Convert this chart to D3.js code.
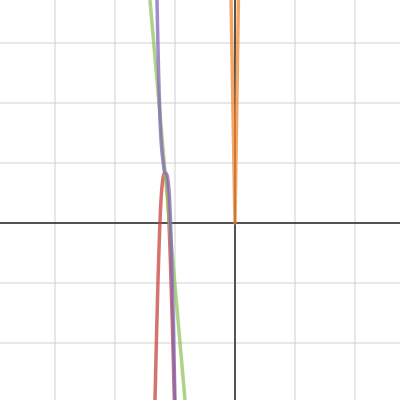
<!DOCTYPE html>
<html><head><meta charset="utf-8">
<script src="https://cdn.jsdelivr.net/npm/d3@7"></script>
<style>body{margin:0;background:#fff}</style></head>
<body><svg id="c" width="400" height="400"></svg>
<script>
const orangeX=[-0.067,0,0.058], orangeY=[3.8,0,3.8];
const redX=[-1.333,-1.283,-1.233,-1.2,-1.183,-1.16,-1.133,-1.083,-1.01];
const redY=[-2.95,-0.95,0.383,0.75,0.817,0.8,0.633,-0.45,-2.95];
const greenX=[-1.417,-0.833], greenY=[3.717,-2.95];
const purpleX=[-1.30,-1.233,-1.19,-1.17,-1.15,-1.133,-1.10,-1.06,-1.0];
const purpleY=[3.72,1.383,0.95,0.84,0.83,0.80,0.55,-0.45,-2.95];
const svg=d3.select("#c");
const x=d3.scaleLinear().domain([-3.9166,2.75]).range([0,400]);
const y=d3.scaleLinear().domain([-2.95,3.7167]).range([400,0]);
const gx=d3.range(-4,4), gy=d3.range(-3,5);
svg.selectAll(".vx").data(gx).join("line").attr("x1",d=>x(d)).attr("x2",d=>x(d)).attr("y1",0).attr("y2",400).attr("stroke","#d0d0d0").attr("stroke-width",1);
svg.selectAll(".hy").data(gy).join("line").attr("y1",d=>y(d)).attr("y2",d=>y(d)).attr("x1",0).attr("x2",400).attr("stroke","#d0d0d0").attr("stroke-width",1);
svg.append("line").attr("x1",x(0)).attr("x2",x(0)).attr("y1",0).attr("y2",400).attr("stroke","#222").attr("stroke-width",1.5);
svg.append("line").attr("y1",y(0)).attr("y2",y(0)).attr("x1",0).attr("x2",400).attr("stroke","#222").attr("stroke-width",1.5);
function draw(xs,ys,col,curve){
  const pts=xs.map((v,i)=>[v,ys[i]]);
  svg.append("path").attr("d",d3.line().x(d=>x(d[0])).y(d=>y(d[1])).curve(curve)(pts))
   .attr("fill","none").attr("stroke",col).attr("stroke-width",3.5).attr("stroke-opacity",0.75).attr("stroke-linejoin","round");
}
draw(orangeX,orangeY,"#f08a30",d3.curveLinear);
draw(redX,redY,"#c74440",d3.curveCatmullRom);
draw(greenX,greenY,"#95c160",d3.curveLinear);
draw(purpleX,purpleY,"#8066b8",d3.curveCatmullRom);
</script></body></html>
